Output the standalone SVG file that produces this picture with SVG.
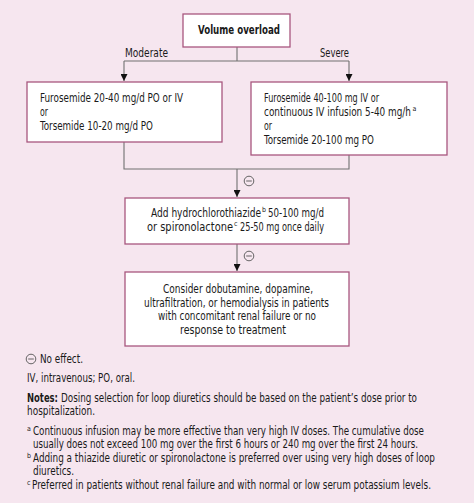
<svg xmlns="http://www.w3.org/2000/svg" width="474" height="503" viewBox="0 0 474 503">
<style>
text{font-family:"DejaVu Sans Condensed","Liberation Sans",sans-serif;font-size:11.5px;fill:#1a1a1a}
.b{font-weight:bold}
.box{fill:#ffffff;stroke:#a8577e;stroke-width:1.3}
.ln{fill:none;stroke:#707070;stroke-width:1.1}
.c{fill:none;stroke:#555;stroke-width:0.9}
.sup{font-size:7px}
</style>
<defs>
<marker id="ah" viewBox="0 0 8 8" refX="8" refY="4" markerWidth="7" markerHeight="7" markerUnits="userSpaceOnUse" orient="auto">
<path d="M0,0 L8,4 L0,8 Z" fill="#111"/>
</marker>
<g id="minus"><circle cx="0" cy="0" r="4.8" class="c"/><line x1="-2.8" y1="0" x2="2.8" y2="0" stroke="#555" stroke-width="0.9"/></g>
</defs>
<rect width="474" height="503" fill="#f6e6ef"/>
<g id="connectors">
<path class="ln" d="M237,47 V61 M124,61 H349"/>
<path class="ln" d="M124,61 V81" marker-end="url(#ah)"/>
<path class="ln" d="M349,61 V81" marker-end="url(#ah)"/>
<path class="ln" d="M124,142 V169 H349 V155"/>
<path class="ln" d="M237,169 V197" marker-end="url(#ah)"/>
<path class="ln" d="M237,244 V271" marker-end="url(#ah)"/>
<use href="#minus" x="249" y="181"/>
<use href="#minus" x="249" y="256"/>
<text x="125" y="57" textLength="43" lengthAdjust="spacingAndGlyphs">Moderate</text>
<text x="320" y="57" textLength="29" lengthAdjust="spacingAndGlyphs">Severe</text>
</g>
<g id="n-volume">
<rect class="box" x="183" y="14" width="107" height="33"/>
<text class="b" x="198" y="34" textLength="82" lengthAdjust="spacingAndGlyphs">Volume overload</text>
</g>
<g id="n-moderate">
<rect class="box" x="27" y="82" width="195" height="60"/>
<text x="40" y="102" textLength="143" lengthAdjust="spacingAndGlyphs">Furosemide 20-40 mg/d PO or IV</text>
<text x="40" y="116" textLength="8" lengthAdjust="spacingAndGlyphs">or</text>
<text x="40" y="130" textLength="113" lengthAdjust="spacingAndGlyphs">Torsemide 10-20 mg/d PO</text>
</g>
<g id="n-severe">
<rect class="box" x="251" y="82" width="196" height="73"/>
<text x="264" y="102" textLength="115" lengthAdjust="spacingAndGlyphs">Furosemide 40-100 mg IV or</text>
<text x="264" y="116" textLength="147" lengthAdjust="spacingAndGlyphs">continuous IV infusion 5-40 mg/h</text>
<text x="412.5" y="111" class="sup">a</text>
<text x="264" y="130" textLength="8" lengthAdjust="spacingAndGlyphs">or</text>
<text x="264" y="144" textLength="110" lengthAdjust="spacingAndGlyphs">Torsemide 20-100 mg PO</text>
</g>
<g id="n-add">
<rect class="box" x="125" y="198" width="224" height="46"/>
<text x="151" y="217" textLength="110" lengthAdjust="spacingAndGlyphs">Add hydrochlorothiazide</text>
<text x="262" y="212" class="sup">b</text>
<text x="268" y="217" textLength="56" lengthAdjust="spacingAndGlyphs">50-100 mg/d</text>
<text x="147" y="231" textLength="86" lengthAdjust="spacingAndGlyphs">or spironolactone</text>
<text x="234" y="226" class="sup">c</text>
<text x="240" y="231" textLength="84" lengthAdjust="spacingAndGlyphs">25-50 mg once daily</text>
</g>
<g id="n-consider">
<rect class="box" x="125" y="272" width="224" height="74"/>
<text x="163" y="293" textLength="150" lengthAdjust="spacingAndGlyphs">Consider dobutamine, dopamine,</text>
<text x="144" y="307" textLength="185" lengthAdjust="spacingAndGlyphs">ultrafiltration, or hemodialysis in patients</text>
<text x="158" y="320" textLength="158" lengthAdjust="spacingAndGlyphs">with concomitant renal failure or no</text>
<text x="180" y="334" textLength="106" lengthAdjust="spacingAndGlyphs">response to treatment</text>
</g>
<g id="legend">
<use href="#minus" x="31" y="359"/>
<text x="40" y="363" textLength="43" lengthAdjust="spacingAndGlyphs">No effect.</text>
<text x="27" y="382" textLength="108" lengthAdjust="spacingAndGlyphs">IV, intravenous; PO, oral.</text>
<text x="27" y="402" textLength="31" lengthAdjust="spacingAndGlyphs" class="b">Notes:</text>
<text x="61" y="402" textLength="356" lengthAdjust="spacingAndGlyphs">Dosing selection for loop diuretics should be based on the patient’s dose prior to</text>
<text x="27" y="415" textLength="68" lengthAdjust="spacingAndGlyphs">hospitalization.</text>
<text x="27" y="431" class="sup">a</text>
<text x="33" y="435" textLength="391" lengthAdjust="spacingAndGlyphs">Continuous infusion may be more effective than very high IV doses. The cumulative dose</text>
<text x="33" y="448" textLength="385" lengthAdjust="spacingAndGlyphs">usually does not exceed 100 mg over the first 6 hours or 240 mg over the first 24 hours.</text>
<text x="27" y="458" class="sup">b</text>
<text x="33" y="462" textLength="402" lengthAdjust="spacingAndGlyphs">Adding a thiazide diuretic or spironolactone is preferred over using very high doses of loop</text>
<text x="33" y="475" textLength="41" lengthAdjust="spacingAndGlyphs">diuretics.</text>
<text x="27" y="485" class="sup">c</text>
<text x="32" y="489" textLength="399" lengthAdjust="spacingAndGlyphs">Preferred in patients without renal failure and with normal or low serum potassium levels.</text>
</g>
</svg>
